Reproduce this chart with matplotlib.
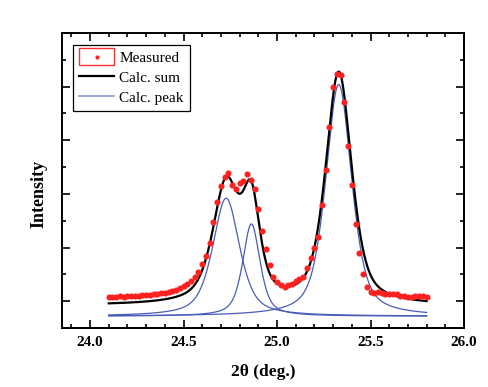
import numpy as np
import matplotlib
matplotlib.use("Agg")
import matplotlib.pyplot as plt
from matplotlib.patches import Rectangle
from matplotlib.lines import Line2D
from matplotlib.legend_handler import HandlerBase

plt.rcParams['font.family'] = ['Liberation Serif', 'DejaVu Serif']
plt.rcParams['mathtext.fontset'] = 'stix'

# ---- data -------------------------------------------------------------
two_theta = [24.10, 24.12, 24.14, 24.16, 24.18, 24.20, 24.22, 24.24, 24.26, 24.28,
             24.30, 24.32, 24.34, 24.36, 24.38, 24.40, 24.42, 24.44, 24.46, 24.48,
             24.50, 24.52, 24.54, 24.56, 24.58, 24.60, 24.62, 24.64, 24.66, 24.68,
             24.70, 24.72, 24.74, 24.76, 24.78, 24.80, 24.82, 24.84, 24.86, 24.88,
             24.90, 24.92, 24.94, 24.96, 24.98, 25.00, 25.02, 25.04, 25.06, 25.08,
             25.10, 25.12, 25.14, 25.16, 25.18, 25.20, 25.22, 25.24, 25.26, 25.28,
             25.30, 25.32, 25.34, 25.36, 25.38, 25.40, 25.42, 25.44, 25.46, 25.48,
             25.50, 25.52, 25.54, 25.56, 25.58, 25.60, 25.62, 25.64, 25.66, 25.68,
             25.70, 25.72, 25.74, 25.76, 25.78, 25.80]
measured = [0.08, 0.08, 0.08, 0.09, 0.08, 0.09, 0.09, 0.10, 0.10, 0.11,
            0.12, 0.12, 0.13, 0.14, 0.15, 0.16, 0.17, 0.19, 0.21, 0.24,
            0.28, 0.32, 0.38, 0.46, 0.54, 0.69, 0.84, 1.08, 1.48, 1.85,
            2.15, 2.31, 2.39, 2.16, 2.10, 2.20, 2.24, 2.37, 2.26, 2.10,
            1.72, 1.31, 0.97, 0.67, 0.45, 0.35, 0.30, 0.26, 0.30, 0.32,
            0.38, 0.42, 0.46, 0.61, 0.80, 0.99, 1.19, 1.80, 2.45, 3.24,
            4.00, 4.24, 4.22, 3.71, 2.89, 2.17, 1.44, 0.89, 0.50, 0.27,
            0.17, 0.16, 0.17, 0.16, 0.13, 0.13, 0.14, 0.14, 0.10, 0.10,
            0.07, 0.07, 0.09, 0.10, 0.09, 0.07]

# fitted peak parameters (pseudo-Voigt): centre, amplitude, HWHM, Lorentz fraction
peak_centres = [24.728, 24.863, 25.330]
peak_amps = [2.20, 1.72, 4.32]
peak_hwhm = [0.085, 0.055, 0.082]
peak_eta = [0.6, 0.6, 0.55]
sum_background = -0.08
peak_offset = -0.28
fit_range = [24.10, 25.80]


def pvoigt(x, c, a, w, eta):
    u = ((x - c) / w) ** 2
    return a * (eta / (1 + u) + (1 - eta) * np.exp(-np.log(2) * u))


xf = np.linspace(fit_range[0], fit_range[1], 800)
comps = [pvoigt(xf, c, a, w, e) for c, a, w, e in
         zip(peak_centres, peak_amps, peak_hwhm, peak_eta)]
calc_sum = sum_background + np.sum(comps, axis=0)

# ---- figure -----------------------------------------------------------
fig = plt.figure(figsize=(4.89, 3.87), dpi=100)
ax = fig.add_axes([62 / 489, 1 - 328 / 387, (464 - 62) / 489, (328 - 33) / 387])

blue = '#4a5cb8'
for comp in comps:
    ax.plot(xf, comp + peak_offset, color=blue, lw=0.9, zorder=2)
ax.plot(xf, calc_sum, color='black', lw=1.6, zorder=3)
ax.plot(two_theta, measured, 'o', color='#ff2020', ms=4.4, mec='none', zorder=4)

ax.set_xlim(23.85, 26.0)
ax.set_ylim(-0.5, 5.0)
ax.set_xticks([24.0, 24.5, 25.0, 25.5, 26.0])
ax.set_xticks(np.arange(23.9, 26.0, 0.1), minor=True)
ax.set_yticks([0, 1, 2, 3, 4, 5])
ax.set_yticks([-0.5, 0.5, 1.5, 2.5, 3.5, 4.5], minor=True)
ax.set_yticklabels([])
ax.tick_params(which='both', direction='in', top=True, right=True, width=1.2)
ax.tick_params(which='major', length=5.5, labelsize=11, pad=6)
ax.tick_params(which='minor', length=3)
for lab in ax.get_xticklabels():
    lab.set_fontweight('bold')
for s in ax.spines.values():
    s.set_linewidth(1.4)

ax.set_xlabel('2θ (deg.)', fontsize=12.5, fontweight='bold')
ax.xaxis.set_label_coords(0.5, -0.122)
ax.xaxis.label.set_va('top')
ax.set_ylabel('Intensity', fontsize=13, fontweight='bold')
ax.yaxis.set_label_coords(-0.037, 0.454)


class BoxedDot(HandlerBase):
    def create_artists(self, legend, orig_handle, xdescent, ydescent,
                       width, height, fontsize, trans):
        r = Rectangle((-xdescent, -ydescent - 0.3 * height), width, height * 1.6,
                      fc='none', ec='#ff3030', lw=1.0, transform=trans)
        d = Line2D([width / 2 - xdescent], [height / 2 - ydescent], marker='o',
                   color='#ff2020', ms=3, mec='none', ls='none', transform=trans)
        return [r, d]


h_meas = Line2D([], [], marker='o', color='#ff2020', ls='none')
h_sum = Line2D([], [], color='black', lw=1.6)
h_peak = Line2D([], [], color='#8f9ad0', lw=1.2)
leg = ax.legend([h_meas, h_sum, h_peak], ['Measured', 'Calc. sum', 'Calc. peak'],
                handler_map={h_meas: BoxedDot()},
                loc='upper left', bbox_to_anchor=(0.027, 0.959), borderaxespad=0,
                fancybox=False, edgecolor='black', framealpha=1, fontsize=11,
                handlelength=2.3, handletextpad=0.33, labelspacing=0.4,
                borderpad=0.4)
leg.get_frame().set_linewidth(0.9)

fig.savefig('out.png', dpi=100)
